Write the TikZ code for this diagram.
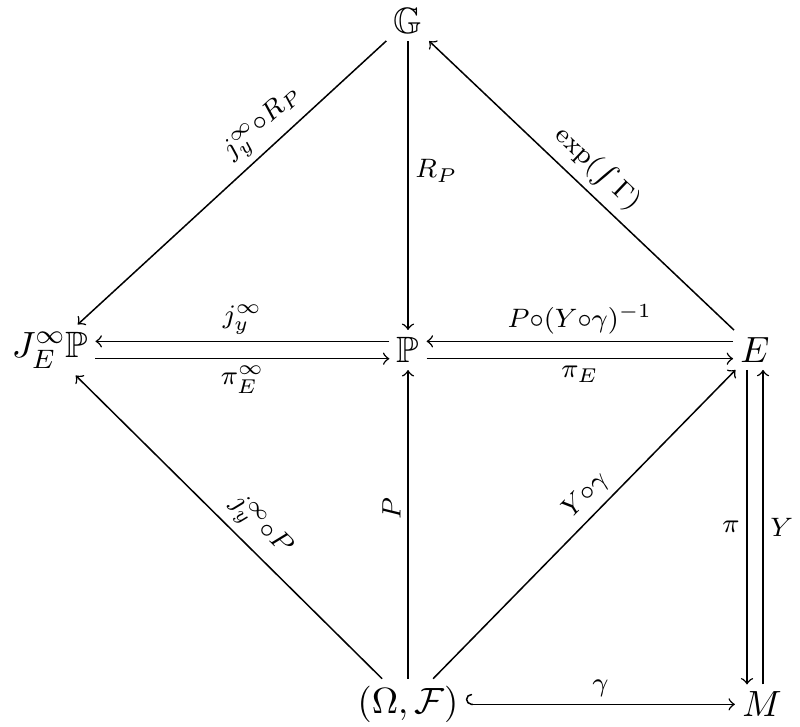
\documentclass[tikz,border=0pt]{standalone}
\usepackage{amssymb}
\usetikzlibrary{arrows}
\begin{document}
\begin{tikzpicture}[x=1pt,y=1pt,>=to,
  obj/.style={font=\fontsize{11}{13}\selectfont,inner sep=2pt},
  lab/.style={font=\fontsize{8.3}{10}\selectfont,inner sep=2pt},
  every path/.style={line width=0.45pt}]
\useasboundingbox (0,0) rectangle (240,217.8);
\node[obj] (G) at (122.4,211.5) {$\mathbb{G}$};
\node[obj] (J) at (15,112.8) {$J^\infty_E\mathbb{P}$};
\node[obj] (P) at (122.4,112.8) {$\mathbb{P}$};
\node[obj] (E) at (226.5,112.8) {$E$};
\node[obj] (O) at (122.4,6.5) {$(\Omega,\mathcal{F})$};
\node[obj] (M) at (228.6,6.5) {$M$};
% horizontal doubles
\draw[->] ([yshift=2.6pt]P.west) -- node[lab,above] {$j^\infty_y$} ([yshift=2.6pt]J.east|-P.west);
\draw[->] ([yshift=-2.6pt]J.east|-P.west) -- node[lab,below] {$\pi^\infty_E$} ([yshift=-2.6pt]P.west);
\draw[->] ([yshift=2.6pt]E.west) -- node[lab,above] {$P{\circ}(Y{\circ}\gamma)^{-1}$} ([yshift=2.6pt]P.east);
\draw[->] ([yshift=-2.6pt]P.east) -- node[lab,below] {$\pi_E$} ([yshift=-2.6pt]E.west);
% vertical E-M
\draw[->] ([xshift=-2.4pt]E.south) -- node[lab,left] {$\pi$} ([xshift=-2.4pt]E.south|-M.north);
\draw[->] ([xshift=2.4pt]E.south|-M.north) -- node[lab,right] {$Y$} ([xshift=2.4pt]E.south);
% G arrows
\draw[->] (G) -- node[lab,right,pos=0.45] {$R_P$} (P);
\draw[->] (G) -- node[lab,above,sloped,pos=0.35] {$j^\infty_y{\circ}R_P$} (J);
\draw[->] (E) -- node[lab,above,sloped,pos=0.5] {$\exp(\int\Gamma)$} (G);
% from Omega
\draw[->] (O) -- node[lab,above,sloped,pos=0.55] {$P$} (P);
\draw[->] (O) -- node[lab,above,sloped,pos=0.45] {$j^\infty_y{\circ}P$} (J);
\draw[->] (O) -- node[lab,above,sloped,pos=0.55] {$Y{\circ}\gamma$} (E);
\draw[right hook->] (O) -- node[lab,above] {$\gamma$} (M);
\end{tikzpicture}
\end{document}
